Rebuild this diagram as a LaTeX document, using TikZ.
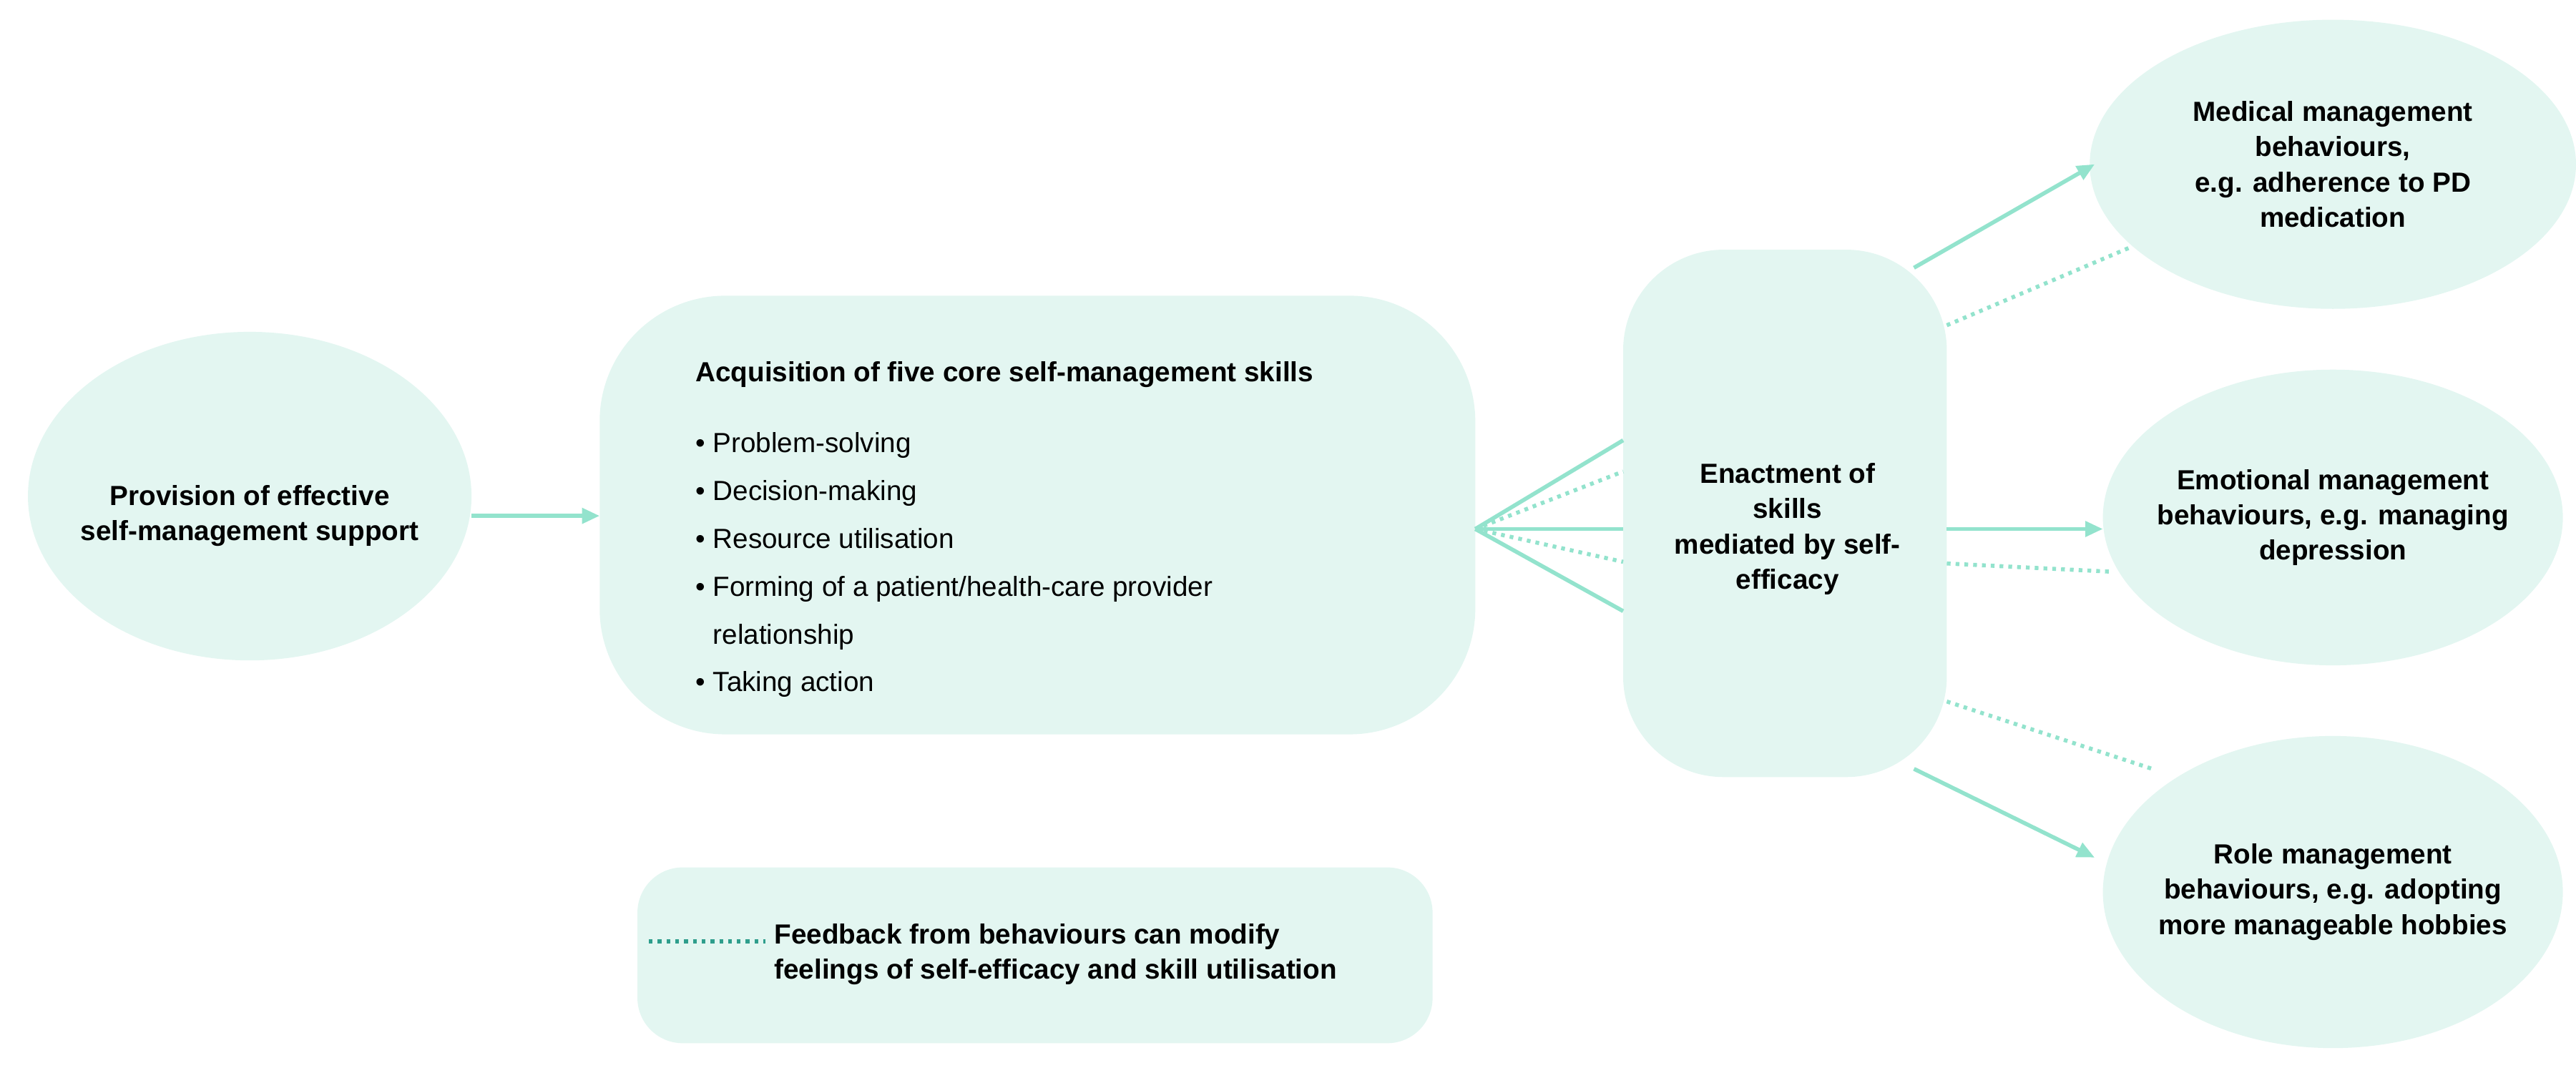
\documentclass[tikz,border=0pt]{standalone}
\usepackage{fontspec}
\setmainfont{Liberation Sans}
\usetikzlibrary{arrows.meta}
\definecolor{fillc}{HTML}{E3F6F1}
\definecolor{linec}{HTML}{93E3CD}
\definecolor{tealc}{HTML}{2E9E8C}
\begin{document}
\begin{tikzpicture}[x=0.02297cm,y=-0.02297cm,
  ell/.style={ellipse,fill=fillc,draw=none},
  box/.style={fill=fillc,draw=none},
  txt/.style={font=\fontsize{11}{14}\selectfont\bfseries,align=center},
  sl/.style={draw=linec,line width=1.6pt},
  dl/.style={draw=linec,line width=1.6pt,dash pattern=on 1.5pt off 2pt},
  ar/.style={-{Triangle[length=7pt,width=6pt]}}]
\useasboundingbox (0,0) rectangle (1568,650);
\fill[fillc] (152,302) ellipse (135 and 100);
\node[txt] (prov) at (152,314) {Provision of effective\\self-management support};
\coordinate (provE) at (287,314);
\fill[fillc,rounded corners=50] (365,180) rectangle (898,447);
\coordinate (acqW) at (365,314);
\coordinate (acqE) at (898,322);
\node[txt,anchor=west] (acqT) at (418,228) {Acquisition of five core self-management skills};
\node[anchor=north west,align=left,font=\fontsize{11}{19}\selectfont] (list) at (418,258)
 {• Problem-solving\\• Decision-making\\• Resource utilisation\\• Forming of a patient/health-care provider\\\hphantom{• }relationship\\• Taking action};
\fill[fillc,rounded corners=40] (988,152) rectangle (1185,473);
\node[txt] (ena) at (1088,322) {Enactment of\\skills\\mediated by self-\\efficacy};
\fill[fillc] (1420,100) ellipse (148 and 88);
\node[txt] (med) at (1420,100) {Medical management\\behaviours,\\e.g. adherence to PD\\medication};
\fill[fillc] (1420,315) ellipse (140 and 90);
\node[txt] (emo) at (1420,315) {Emotional management\\behaviours, e.g. managing\\depression};
\fill[fillc] (1420,543) ellipse (140 and 95);
\node[txt] (role) at (1420,543) {Role management\\behaviours, e.g. adopting\\more manageable hobbies};
\fill[fillc,rounded corners=18] (388,528) rectangle (872,635);
\node[txt,align=left,anchor=west] (leg) at (466,581) {Feedback from behaviours can modify\\feelings of self-efficacy and skill utilisation};
\coordinate (legA) at (395,573);
\draw[draw=tealc,line width=1.6pt,dash pattern=on 1.5pt off 2pt] (legA) -- (leg.west|-legA);
\draw[sl,ar] (provE) -- (acqW);
\foreach \y in {268,322,372} \draw[sl] (acqE) -- (988,\y);
\foreach \y in {287,342} \draw[dl] (acqE) -- (988,\y);
\draw[sl,ar] (1165,163) -- (1275,100);
\draw[dl] (1185,198) -- (1298,150);
\draw[sl,ar] (1185,322) -- (1280,322);
\draw[dl] (1185,343) -- (1285,348);
\draw[dl] (1185,427) -- (1310,468);
\draw[sl,ar] (1165,468) -- (1275,522);
\end{tikzpicture}
\end{document}
